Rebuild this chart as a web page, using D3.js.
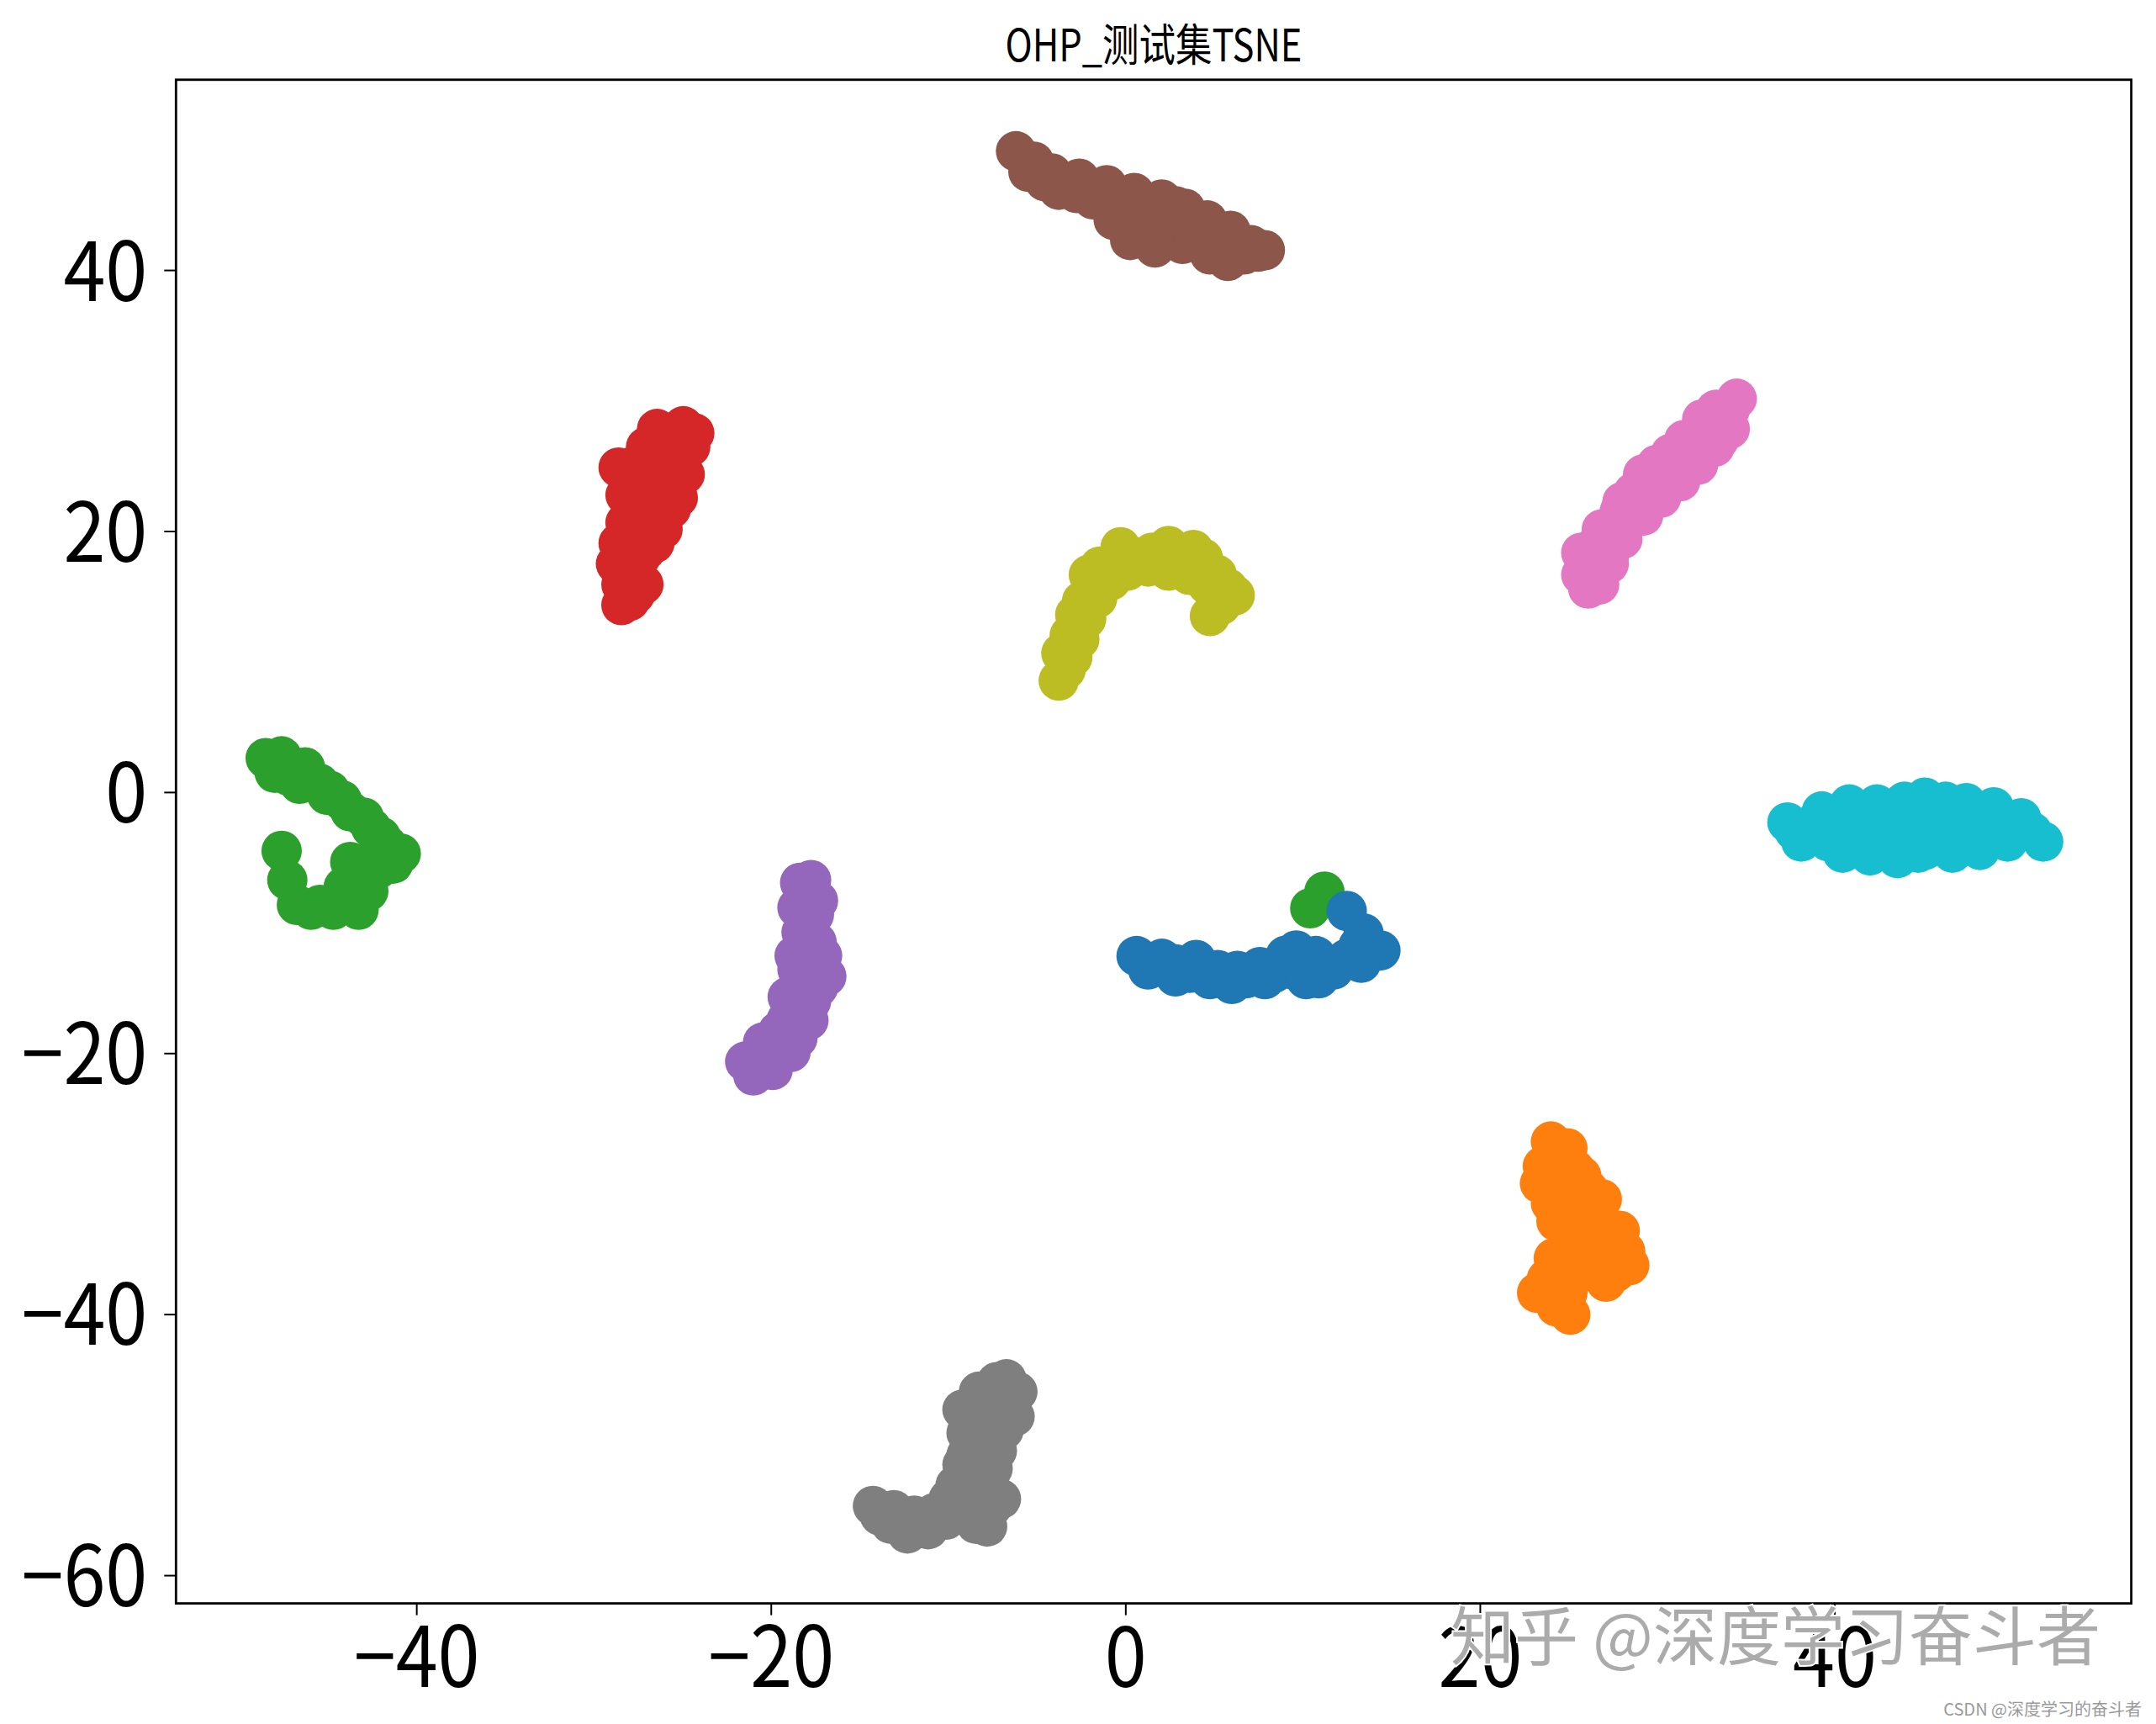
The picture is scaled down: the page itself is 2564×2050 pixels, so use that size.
<!DOCTYPE html>
<html>
<head>
<meta charset="utf-8">
<script src="https://cdn.jsdelivr.net/npm/d3@7"></script>
<style>
  html, body { margin: 0; padding: 0; background: #fff; }
  svg { display: block; }
</style>
</head>
<body>
<svg id="chart" width="2564" height="2050"></svg>
<script>
// ---------- data (t-SNE embedding, one array per class) ----------
const title = "OHP_测试集TSNE";
const xTicks = [-40, -20, 0, 20, 40];
const yTicks = [-60, -40, -20, 0, 20, 40];
const classColors = ["#1f77b4", "#ff7f0e", "#2ca02c", "#d62728", "#9467bd",
                     "#8c564b", "#e377c2", "#7f7f7f", "#bcbd22", "#17becf"];

const greenStray = [[11.23, -7.62], [10.43, -8.9]];

const blue = [[0.63, -12.56], [2.06, -12.77], [2.85, -13.2], [3.63, -13.85], [4.43, -13.63],
  [5.21, -13.63], [6.0, -14.7], [6.8, -14.27], [7.59, -13.41], [8.38, -13.85],
  [9.64, -12.13], [10.75, -12.56], [10.91, -14.27], [12.49, -12.77], [13.44, -10.83],
  [12.49, -9.11], [14.39, -12.13],
  [1.28, -13.59], [2.83, -14.12], [4.77, -14.33], [6.32, -13.7], [7.87, -14.33],
  [9.43, -13.59], [10.2, -14.33], [11.75, -13.59], [13.3, -13.07], [13.15, -11.8],
  [3.99, -12.86], [9.04, -12.54]];

const orange = [[24.01, -26.77], [24.94, -27.29], [23.55, -28.66], [25.33, -28.87], [24.55, -30.14],
  [26.11, -30.45], [24.01, -31.51], [25.56, -32.03], [26.88, -31.19], [24.94, -33.61],
  [26.49, -33.3], [27.89, -33.61], [28.2, -35.19], [27.66, -36.78], [27.11, -37.51],
  [25.56, -35.72], [24.17, -35.72], [23.78, -37.3], [23.23, -38.36], [24.94, -38.36],
  [25.1, -40.04], [25.72, -36.78],
  [24.55, -28.35], [25.72, -29.4], [25.1, -30.98], [26.49, -32.03], [24.32, -32.88],
  [25.87, -34.14], [27.27, -35.19], [26.49, -35.72], [24.94, -36.78], [24.32, -39.41],
  [23.39, -29.98], [28.43, -36.25]];

const green = [[-48.5, 2.6], [-48.32, 2.37], [-47.22, 1.26], [-45.97, 0.89], [-45.47, 0.65],
  [-44.2, -0.63], [-42.96, -1.95], [-42.01, -3.42], [-40.88, -4.71], [-43.73, -5.35],
  [-42.96, -7.06], [-43.26, -9.01], [-44.68, -9.01], [-45.94, -9.01], [-47.6, -4.5],
  [-47.28, -6.74],
  [-47.99, 1.48], [-46.59, 0.63], [-45.04, -0.21], [-43.72, -1.48], [-42.55, -2.74],
  [-41.62, -4.11], [-44.88, 0.11], [-46.28, 1.9], [-47.6, 2.74], [-42.4, -5.16],
  [-42.71, -7.59], [-43.72, -8.32], [-42.17, -5.9], [-45.43, -8.64], [-46.74, -8.64],
  [-44.1, -7.27], [-41.31, -5.48]];

const red = [[-26.42, 27.82], [-24.94, 28.03], [-24.55, 26.45], [-25.48, 25.92], [-27.04, 26.45],
  [-27.97, 24.87], [-26.65, 24.34], [-25.33, 23.81], [-28.2, 22.76], [-26.88, 22.23],
  [-25.64, 21.71], [-28.2, 20.65], [-27.04, 20.13], [-26.11, 20.13], [-28.2, 18.76],
  [-27.04, 18.55], [-27.81, 16.97], [-28.2, 15.6], [-27.66, 15.17], [-28.43, 15.91],
  [-27.97, 14.65],
  [-27.19, 25.4], [-25.87, 26.98], [-24.32, 27.5], [-27.66, 23.81], [-26.26, 23.29],
  [-24.86, 24.34], [-27.66, 21.5], [-26.42, 21.18], [-25.25, 22.55], [-27.66, 19.39],
  [-26.57, 19.07], [-27.35, 18.02], [-28.59, 24.87], [-28.59, 19.07], [-28.74, 17.49],
  [-27.19, 15.91], [-28.43, 14.33]];

const purple = [[-18.35, -6.95], [-17.73, -7.59], [-18.5, -8.85], [-17.57, -9.38], [-18.27, -10.75],
  [-17.42, -11.49], [-18.66, -12.54], [-17.73, -13.07], [-16.87, -14.12], [-18.11, -14.65],
  [-19.05, -15.7], [-17.73, -16.02], [-18.66, -17.28], [-19.59, -18.34], [-18.5, -18.86],
  [-20.44, -19.18], [-19.67, -20.23], [-20.83, -20.44], [-21.45, -20.65], [-20.99, -21.71],
  [-19.9, -21.29], [-18.89, -19.92],
  [-17.34, -8.32], [-17.88, -10.12], [-17.11, -12.54], [-18.5, -13.59], [-17.34, -14.96],
  [-18.27, -16.23], [-19.12, -17.49], [-17.88, -17.49], [-20.05, -19.6], [-18.89, -18.34],
  [-20.44, -20.97], [-17.73, -6.74]];

const brown = [[-6.17, 49.1], [-5.16, 48.3], [-4.15, 47.4], [-2.6, 47.0], [-1.05, 46.5],
  [0.5, 45.9], [2.05, 45.4], [3.37, 44.7], [4.62, 43.8], [5.93, 43.0], [7.1, 41.9],
  [-4.54, 46.8], [-2.75, 45.9], [-0.81, 44.9], [0.27, 42.3], [1.67, 42.8], [3.22, 42.0],
  [4.77, 41.2], [5.78, 40.7], [6.71, 41.2], [7.49, 41.4],
  [-5.47, 47.52], [-3.76, 46.15], [-1.82, 45.41], [-0.27, 44.68], [1.05, 44.05],
  [2.44, 43.84], [3.84, 42.99], [5.16, 42.26], [6.32, 41.94], [1.67, 41.73],
  [-0.66, 43.84], [0.89, 44.89], [2.83, 44.89], [4.38, 42.57], [7.87, 41.52]];

const pink = [[26.11, 15.6], [26.49, 17.28], [27.11, 18.76], [27.66, 20.13], [28.43, 20.86],
  [28.98, 22.23], [29.6, 23.29], [30.53, 24.34], [31.3, 25.4], [32.08, 26.45],
  [32.86, 27.5], [33.48, 28.56], [34.1, 29.29], [34.49, 30.14], [25.72, 16.65],
  [27.27, 17.49], [26.65, 19.07], [28.04, 22.23], [29.21, 24.34], [30.76, 25.92],
  [32.54, 28.56], [33.48, 26.98],
  [26.73, 15.91], [27.27, 18.02], [28.04, 19.39], [29.21, 21.18], [30.22, 22.55],
  [31.3, 23.81], [32.31, 25.08], [33.24, 26.45], [34.1, 27.82], [25.72, 18.34],
  [26.88, 20.13], [27.89, 21.5], [28.67, 22.97], [29.98, 25.08], [31.53, 26.98],
  [33.32, 29.29]];

const gray = [[-6.71, -44.99], [-7.25, -45.2], [-6.63, -47.31], [-9.19, -47.31], [-7.8, -47.84],
  [-6.87, -48.89], [-8.96, -49.1], [-7.8, -49.95], [-8.96, -50.79], [-7.25, -50.47],
  [-8.42, -52.27], [-9.58, -53.11], [-8.03, -53.32], [-7.49, -54.69], [-9.19, -54.69],
  [-8.42, -56.06], [-10.12, -55.74], [-11.13, -56.48], [-12.3, -56.8], [-13.23, -56.06],
  [-14.24, -54.69],
  [-8.26, -45.94], [-6.09, -45.94], [-7.49, -46.79], [-8.57, -48.37], [-6.25, -47.84],
  [-9.19, -51.53], [-7.49, -51.84], [-7.8, -56.27], [-7.02, -54.16], [-9.97, -54.16],
  [-11.91, -55.43], [-13.07, -55.01], [-13.85, -55.43], [-10.75, -55.22]];

const olive = [[-3.37, 9.38], [-3.61, 10.64], [-3.14, 12.01], [-2.83, 13.59], [-2.44, 14.65],
  [-1.82, 15.91], [-1.44, 17.28], [-0.5, 17.7], [0.5, 18.02], [1.51, 18.34], [2.44, 18.02],
  [3.37, 17.7], [4.38, 17.91], [5.16, 16.65], [5.78, 15.6], [6.17, 15.07], [4.77, 13.49],
  [4.0, 16.65], [-1.05, 16.44],
  [-2.6, 11.7], [-2.21, 13.28], [-1.59, 14.86], [-0.81, 16.23], [0.12, 16.97],
  [1.28, 17.28], [2.44, 16.97], [3.61, 16.65], [4.62, 15.91], [5.39, 14.33],
  [-3.76, 8.54], [-2.99, 10.33], [-2.06, 16.65], [-0.27, 18.76], [2.44, 18.86], [3.84, 18.55]];

const cyan = [[37.74, -2.95], [38.91, -2.32], [40.07, -3.06], [41.23, -1.79], [42.4, -2.53],
  [43.56, -2.32], [44.72, -1.69], [45.89, -1.48], [46.66, -2.32], [47.83, -1.9],
  [48.99, -2.21], [50.16, -2.53], [51.16, -3.06], [51.78, -3.79], [43.56, -5.06],
  [45.11, -4.43], [39.68, -3.79], [41.62, -3.9], [47.05, -3.58], [48.6, -3.37], [46.27, -0.74],
  [38.13, -3.79], [40.46, -4.64], [42.01, -4.85], [44.72, -4.64], [46.66, -4.64],
  [48.21, -4.43], [49.77, -3.79], [39.29, -1.48], [40.84, -0.95], [42.4, -0.95],
  [43.95, -0.74], [45.11, -0.42], [47.44, -0.84], [48.99, -1.16], [50.54, -2.0],
  [37.35, -2.32], [43.17, -3.79], [45.89, -3.06]];

// draw order: stray green first so the blue cluster lies over it
const layers = [
  { pts: greenStray, c: 2 }, { pts: blue, c: 0 }, { pts: orange, c: 1 }, { pts: green, c: 2 },
  { pts: red, c: 3 }, { pts: purple, c: 4 }, { pts: brown, c: 5 }, { pts: pink, c: 6 },
  { pts: gray, c: 7 }, { pts: olive, c: 8 }, { pts: cyan, c: 9 }
];

// ---------- layout ----------
const plot = { left: 209.3, top: 94.8, right: 2534.6, bottom: 1906.6 };
const numFont = "'Noto Sans CJK SC', 'Noto Sans', sans-serif";

const svg = d3.select("#chart");

const x = d3.scaleLinear().domain([-53.56, 56.75]).range([plot.left, plot.right]);
const y = d3.scaleLinear().domain([-62.16, 54.58]).range([plot.bottom, plot.top]);

// points
const g = svg.append("g");
layers.forEach(layer => {
  g.selectAll(null).data(layer.pts).enter().append("circle")
    .attr("cx", d => x(d[0]))
    .attr("cy", d => y(d[1]))
    .attr("r", 24)
    .attr("fill", classColors[layer.c]);
});

// axes
const fmt = d => d < 0 ? "\u2212" + Math.abs(d) : String(d);
const xAxis = d3.axisBottom(x).tickValues(xTicks).tickSize(14).tickPadding(14).tickFormat(fmt);
const yAxis = d3.axisLeft(y).tickValues(yTicks).tickSize(14).tickPadding(20).tickFormat(fmt);

const gx = svg.append("g").attr("transform", `translate(0,${plot.bottom})`).call(xAxis);
const gy = svg.append("g").attr("transform", `translate(${plot.left},0)`).call(yAxis);
[gx, gy].forEach(a => {
  a.select(".domain").remove();
  a.selectAll(".tick line").attr("stroke", "#000").attr("stroke-width", 2);
  a.selectAll(".tick text").attr("fill", "#000")
    .style("font-family", numFont).style("font-size", "100px");
});
gy.selectAll(".tick text").attr("dy", "0.36em");
// narrow the glyphs to mimic the tall, condensed face of the original
[gx, gy].forEach(a => {
  a.selectAll(".tick text").each(function () {
    const t = d3.select(this);
    const tx = +t.attr("x") || 0;
    t.attr("x", 0).attr("transform", `translate(${tx},0) scale(0.9,1)`);
  });
});

// frame
svg.append("rect")
  .attr("x", plot.left).attr("y", plot.top)
  .attr("width", plot.right - plot.left).attr("height", plot.bottom - plot.top)
  .attr("fill", "none").attr("stroke", "#000").attr("stroke-width", 2.8);

// title (narrow, tall face like the original)
const cx = (plot.left + plot.right) / 2;
svg.append("text")
  .attr("transform", `translate(${cx},73) scale(0.82,1)`)
  .attr("text-anchor", "middle")
  .style("font-family", numFont).style("font-size", "53px")
  .attr("fill", "#000")
  .text(title);

// watermarks
svg.append("text")
  .attr("x", 1725).attr("y", 1974)
  .style("font-family", "'Noto Sans CJK SC', sans-serif").style("font-size", "76px")
  .attr("fill", "#ababab").attr("stroke", "#fff").attr("stroke-width", 4)
  .style("paint-order", "stroke")
  .text("知乎 @深度学习奋斗者");

svg.append("text")
  .attr("x", 2547).attr("y", 2040).attr("text-anchor", "end")
  .style("font-family", "'Noto Sans CJK SC', sans-serif").style("font-size", "20px")
  .attr("fill", "#9a9a9a")
  .text("CSDN @深度学习的奋斗者");
</script>
</body>
</html>
